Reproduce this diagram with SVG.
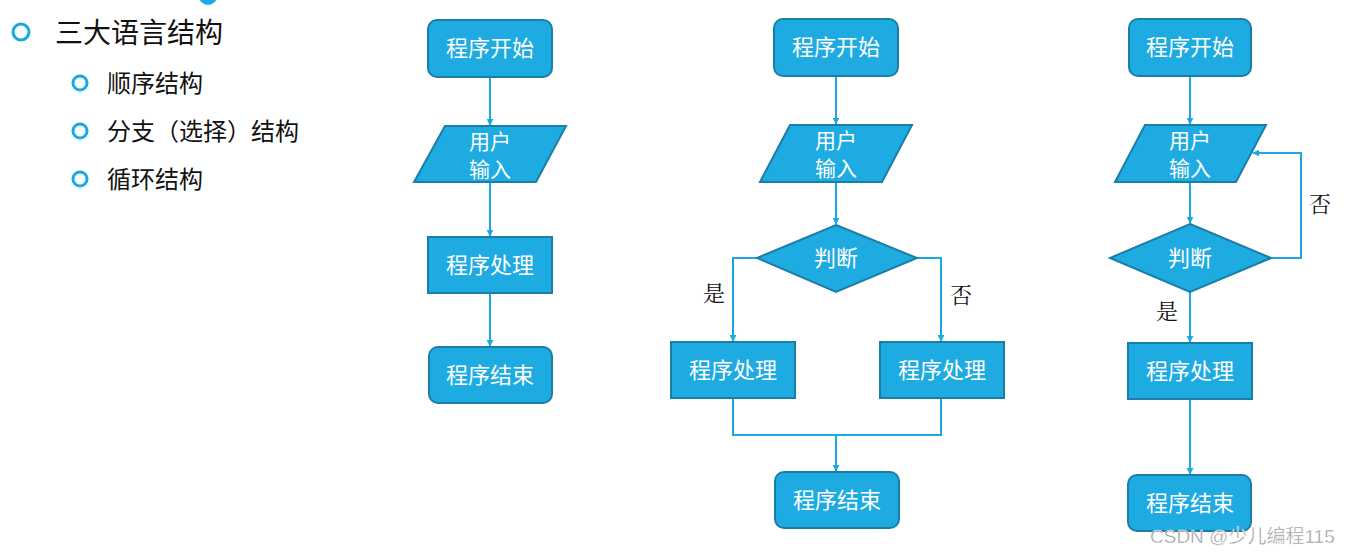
<svg xmlns="http://www.w3.org/2000/svg" width="1353" height="556" viewBox="0 0 1353 556">
<defs>
<marker id="ah" viewBox="0 0 10 10" refX="9" refY="5" markerWidth="7" markerHeight="7" orient="auto" markerUnits="userSpaceOnUse"><path d="M0,0 L10,5 L0,10 z" fill="#1BA9E1"/></marker>
</defs>
<style>
.n{fill:#1DABE2;stroke:#1B7EA6;stroke-width:2}
.t{font-family:"Noto Sans CJK SC",sans-serif;font-size:22px;fill:#fff;text-anchor:middle}
.t2{font-family:"Noto Sans CJK SC",sans-serif;font-size:21px;fill:#fff;text-anchor:middle}
.c{fill:none;stroke:#1BA9E1;stroke-width:2}
.a{marker-end:url(#ah)}
.l{font-family:"Noto Serif CJK SC","Noto Sans CJK SC",serif;font-size:22px;fill:#111;text-anchor:middle}
.b{fill:none;stroke:#1BA9E1;stroke-width:3}
.h{font-family:"Noto Sans CJK SC",sans-serif;fill:#111}
</style>
<rect width="1353" height="556" fill="#fff"/>
<g id="outline">
<circle cx="208" cy="-4" r="9" fill="#1BA9E1"/>
<circle class="b" cx="21" cy="32" r="8"/>
<text class="h" x="55" y="43" font-size="28">三大语言结构</text>
<circle class="b" cx="80" cy="83" r="7"/>
<text class="h" x="107" y="92" font-size="24">顺序结构</text>
<circle class="b" cx="80" cy="131" r="7"/>
<text class="h" x="107" y="140" font-size="24">分支（选择）结构</text>
<circle class="b" cx="80" cy="179" r="7"/>
<text class="h" x="107" y="188" font-size="24">循环结构</text>
</g>
<g id="connectors">
<line class="c a" x1="490" y1="77" x2="490" y2="125"/>
<line class="c a" x1="490" y1="182" x2="490" y2="236"/>
<line class="c a" x1="490" y1="293" x2="490" y2="346"/>
<line class="c a" x1="836" y1="76" x2="836" y2="124"/>
<line class="c a" x1="836" y1="182" x2="836" y2="224"/>
<polyline class="c a" points="757,258 733,258 733,341"/>
<polyline class="c a" points="917,258 941,258 941,341"/>
<polyline class="c" points="733,398 733,435 941,435 941,398"/>
<line class="c a" x1="836" y1="435" x2="836" y2="471"/>
<line class="c a" x1="1190" y1="76" x2="1190" y2="124"/>
<line class="c a" x1="1190" y1="182" x2="1190" y2="223"/>
<polyline class="c a" points="1271,258 1301,258 1301,153 1253,153"/>
<line class="c a" x1="1190" y1="292" x2="1190" y2="342"/>
<line class="c a" x1="1190" y1="399" x2="1190" y2="474"/>
<text class="l" x="714" y="301">是</text>
<text class="l" x="961" y="303">否</text>
<text class="l" x="1320" y="212">否</text>
<text class="l" x="1167" y="319">是</text>
</g>
<g id="s1"><rect class="n" x="428" y="20" width="124" height="57" rx="9"/><text class="t" x="490" y="56">程序开始</text></g>
<g id="i1"><polygon class="n" points="445,126 566,126 536,182 414,182"/><text class="t2" x="490" y="149">用户</text><text class="t2" x="490" y="177">输入</text></g>
<g id="p1"><rect class="n" x="428" y="237" width="124" height="56"/><text class="t" x="490" y="273">程序处理</text></g>
<g id="e1"><rect class="n" x="429" y="347" width="123" height="56" rx="9"/><text class="t" x="490" y="383">程序结束</text></g>
<g id="s2"><rect class="n" x="774" y="19" width="124" height="57" rx="9"/><text class="t" x="836" y="55">程序开始</text></g>
<g id="i2"><polygon class="n" points="790,125 912,125 882,182 760,182"/><text class="t2" x="836" y="148">用户</text><text class="t2" x="836" y="176">输入</text></g>
<g id="d2"><polygon class="n" points="836,225 917,258 836,292 757,258"/><text class="t" x="836" y="266">判断</text></g>
<g id="p2a"><rect class="n" x="671" y="342" width="124" height="56"/><text class="t" x="733" y="378">程序处理</text></g>
<g id="p2b"><rect class="n" x="880" y="342" width="124" height="56"/><text class="t" x="942" y="378">程序处理</text></g>
<g id="e2"><rect class="n" x="775" y="472" width="124" height="56" rx="9"/><text class="t" x="837" y="508">程序结束</text></g>
<g id="s3"><rect class="n" x="1129" y="19" width="122" height="57" rx="9"/><text class="t" x="1190" y="55">程序开始</text></g>
<g id="i3"><polygon class="n" points="1145,125 1266,125 1236,182 1115,182"/><text class="t2" x="1190" y="148">用户</text><text class="t2" x="1190" y="176">输入</text></g>
<g id="d3"><polygon class="n" points="1190,224 1271,258 1190,292 1110,258"/><text class="t" x="1190" y="266">判断</text></g>
<g id="p3"><rect class="n" x="1128" y="343" width="124" height="56"/><text class="t" x="1190" y="379">程序处理</text></g>
<g id="e3"><rect class="n" x="1128" y="475" width="123" height="56" rx="9"/><text class="t" x="1190" y="511">程序结束</text></g>
<text x="1150" y="543" font-family="'Liberation Sans','Noto Sans CJK SC',sans-serif" font-size="19" fill="#999" stroke="#fff" stroke-width="0.4">CSDN @少儿编程115</text>
</svg>
